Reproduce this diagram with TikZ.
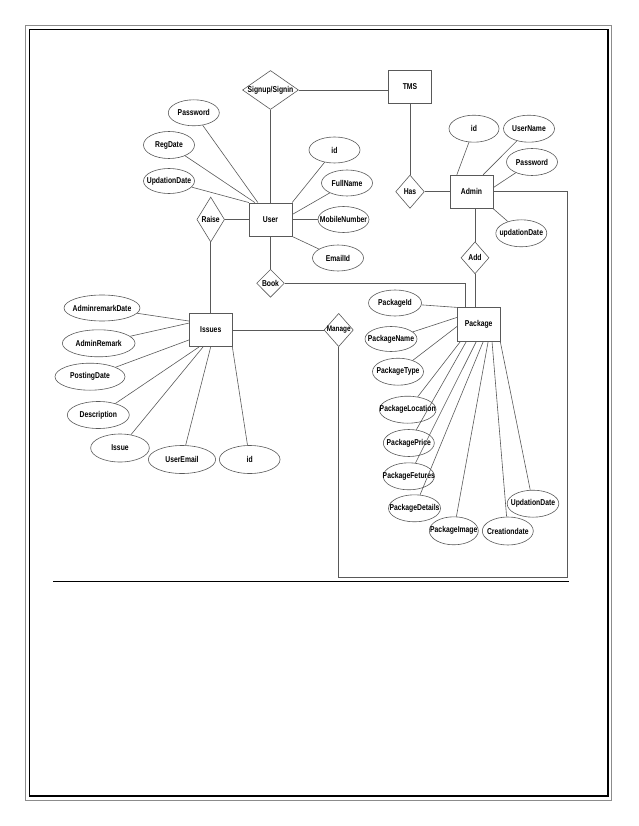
\documentclass[tikz,border=0pt]{standalone}
\usepackage{fontspec}
\newfontfamily\erfont[FakeStretch=0.8]{Liberation Sans}
\usepackage{tikz}
\usetikzlibrary{shapes.geometric}
\tikzset{
  ent/.style={draw=black!65, line width=0.6pt, rectangle, minimum width=42.7pt, minimum height=33.3pt,
    font=\erfont\bfseries\fontsize{8.5}{9}\selectfont},
  attr/.style={draw=black!65, line width=0.6pt, ellipse, minimum width=51pt, minimum height=26pt,
    inner xsep=-8pt, inner ysep=2pt, font=\erfont\bfseries\fontsize{8.5}{9}\selectfont},
  rel/.style={draw=black!65, line width=0.6pt, diamond, inner xsep=-3pt, inner ysep=0pt,
    font=\erfont\bfseries\fontsize{8.5}{10}\selectfont},
  conn/.style={black!65, line width=0.6pt},
  pageline/.style={line width=1.3pt}
}
\begin{document}
\begin{tikzpicture}[x=1pt, y=-1pt]
                \useasboundingbox (0,0) rectangle (638,826);
                \draw[black!45, line width=0.6pt] (25,25) rectangle (611.7,800);
                \draw[pageline] (29.5,29.5) rectangle (608,796);
                \draw[pageline] (53,581.5) -- (569,581.5);
                \node[ent] (tms) at (410,87) {TMS};
                \node[ent] (user) at (270.5,219.5) {User};
                \node[ent] (admin) at (471.5,191.7) {Admin};
                \node[ent] (issues) at (210.7,330) {Issues};
                \node[ent, minimum height=34pt] (pkg) at (478.7,324.7) {Package};
                \node[rel, shape aspect=2, minimum width=56pt, minimum height=39pt] (signup) at (270.5,90) {Signup/Signin};
                \node[rel, minimum width=28.7pt, minimum height=33.3pt] (has) at (410,191.7) {Has};
                \node[rel, minimum width=27.7pt, minimum height=45pt] (raise) at (210.7,219.5) {Raise};
                \node[rel, minimum width=27.7pt, minimum height=28pt] (book) at (270.5,283.3) {Book};
                \node[rel, minimum width=28pt, minimum height=32pt] (add) at (475,257.8) {Add};
                \node[rel, minimum width=29.3pt, minimum height=33.3pt, font=\erfont\bfseries\fontsize{8}{9}\selectfont] (manage) at (338.7,330) {Manage};
                \node[attr] (upw) at (193.8,112.8) {Password};
                \node[attr, minimum height=27pt] (regdate) at (169,145) {RegDate};
                \node[attr, minimum height=25pt] (uupd) at (169,181) {UpdationDate};
                \node[attr] (uid) at (334.5,150) {id};
                \node[attr] (fullname) at (347,183) {FullName};
                \node[attr] (mobile) at (343.5,219.5) {MobileNumber};
                \node[attr] (email) at (338,258) {EmailId};
                \node[attr, minimum width=50pt, minimum height=27pt] (aid) at (474,128.7) {id};
                \node[attr, minimum height=27pt] (uname) at (529,128.7) {UserName};
                \node[attr, minimum height=27pt] (apw) at (532,162) {Password};
                \node[attr, minimum height=27pt] (aupd) at (521.3,233.3) {updationDate};
                \node[attr, minimum width=76pt] (ard) at (102,308) {AdminremarkDate};
                \node[attr, minimum width=72.7pt, minimum height=27pt] (arem) at (98.7,343.3) {AdminRemark};
                \node[attr, minimum width=70pt, minimum height=27pt] (pdate) at (90,376.7) {PostingDate};
                \node[attr, minimum width=62pt, minimum height=27pt] (desc) at (98.3,415) {Description};
                \node[attr, minimum width=58.7pt, minimum height=28pt] (issue) at (120,448) {Issue};
                \node[attr, minimum width=67.3pt, minimum height=28pt] (uemail) at (182,459.5) {UserEmail};
                \node[attr, minimum width=60.7pt, minimum height=28pt] (iid) at (249.7,459.5) {id};
                \node[attr, minimum width=53pt] (pid) at (395,303) {PackageId};
                \node[attr, minimum width=52pt, minimum height=25pt] (pname) at (391,339) {PackageName};
                \node[attr, minimum height=27pt] (ptype) at (398,371.7) {PackageType};
                \node[attr, minimum width=56.7pt, minimum height=27pt] (ploc) at (407.7,409.7) {PackageLocation};
                \node[attr, minimum height=27pt] (pprice) at (408.8,443) {PackagePrice};
                \node[attr, minimum height=27pt] (pfet) at (408.8,476.3) {PackageFetures};
                \node[attr, minimum width=52pt, minimum height=27pt] (pdet) at (414.5,508.3) {PackageDetails};
                \node[attr, minimum width=49pt, minimum height=28pt] (pimg) at (453.8,530.8) {PackageImage};
                \node[attr, minimum height=28pt] (pcre) at (507.8,531) {Creationdate};
                \node[attr, minimum width=51.7pt, minimum height=27pt] (pupd) at (533,503.7) {UpdationDate};
                \coordinate (corner) at (567.3,577.7);
                \draw[conn]
                (user) edge (signup)
                (signup) edge (signup -| tms.west)
                (tms) edge (has)
                (has) edge (admin)
                (add |- admin.south) edge (add)
                (add) edge (add |- pkg.north)
                (raise) edge (user)
                (raise) edge (issues)
                (user) edge (book)
                (issues) edge (manage)
                (upw) edge ([xshift=9pt]user.north west)
                (regdate) edge ([xshift=6pt]user.north west)
                (uupd) edge (user.north west)
                (uid) edge (user.north east)
                (fullname) edge ([yshift=-12pt]user.north east)
                (mobile) edge (user.east)
                (email) edge (user.south east)
                (aid) edge ([xshift=7pt]admin.north west)
                (uname) edge ([xshift=-10pt]admin.north east)
                (apw) edge ([yshift=4pt]admin.east)
                (aupd) edge (admin.south east)
                (ard) edge ([yshift=-8pt]issues.north west)
                (arem) edge ([yshift=-10pt]issues.north west)
                (pdate) edge ([yshift=7pt]issues.south west)
                (desc) edge ([xshift=10pt]issues.south west)
                (issue) edge ([xshift=14pt]issues.south west)
                (uemail) edge (issues.south)
                (iid) edge (issues.south east)
                (pid) edge (pkg.north west)
                (pname) edge ([yshift=-10pt]pkg.north west)
                (ptype) edge ([yshift=-19pt]pkg.north west)
                (ploc) edge ([xshift=3pt]pkg.south west)
                (pprice) edge ([xshift=9pt]pkg.south west)
                (pfet) edge ([xshift=19pt]pkg.south west)
                (pdet) edge ([xshift=26pt]pkg.south west)
                (pimg) edge ([xshift=31pt]pkg.south west)
                (pcre) edge ([xshift=35pt]pkg.south west)
                (pupd) edge (pkg.south east);
                \draw[conn] (book.east) -| ([xshift=-13.7pt]pkg.north);
                \draw[conn] (admin.east) -| (corner) -| (manage.south);
\end{tikzpicture}
\end{document}
